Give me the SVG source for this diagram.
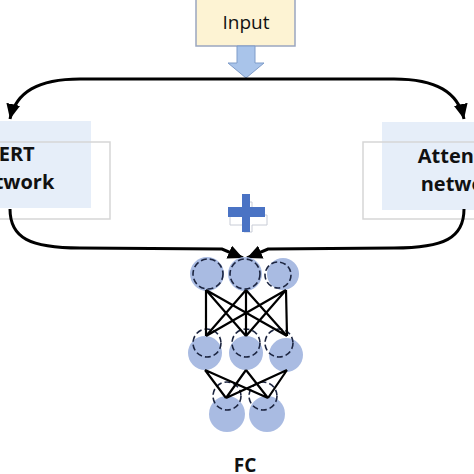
<svg xmlns="http://www.w3.org/2000/svg" width="474" height="474" viewBox="0 0 474 474">
<style>
.lbl{font-family:"Open Sans","Liberation Sans",sans-serif;font-weight:bold;font-size:20px;fill:#111}
.net{fill:none;stroke:#d6d6d6;stroke-width:1.5}
.pane{fill:#e6eef9}
.fil{fill:#a9bbe2}
.dash{fill:none;stroke:#1c2540;stroke-width:1.6;stroke-dasharray:6 3}
.wire{stroke:#000;stroke-width:2.2;fill:none}
.conn{stroke:#000;stroke-width:3;fill:none}
</style>
<defs>
<marker id="ah" markerUnits="userSpaceOnUse" markerWidth="16" markerHeight="14" refX="15" refY="7" orient="auto-start-reverse">
<path d="M0,0 L15,7 L0,14 z" fill="#000"/>
</marker>
</defs>
<rect width="474" height="474" fill="#fff"/>
<g id="input">
<rect x="196" y="-2" width="99" height="48" fill="#fdf3d3" stroke="#9aa6c0" stroke-width="1.5"/>
<text x="246" y="29" text-anchor="middle" font-family="Open Sans, Liberation Sans, sans-serif" font-size="19" fill="#111">Input</text>
<path d="M237,46 H255 V63 H264 L246,78 L228,63 H237 Z" fill="#a9c4ea" stroke="#7f9cc9" stroke-width="1"/>
</g>
<g id="bert">
<rect class="pane" x="-2" y="121" width="93" height="87"/>
<rect class="net" x="-2" y="142" width="112" height="77"/>
<text class="lbl" x="10" y="161" text-anchor="middle">BERT</text>
<text class="lbl" x="12" y="189" text-anchor="middle">network</text>
</g>
<g id="attention">
<rect class="pane" x="382" y="122" width="94" height="88"/>
<rect class="net" x="363" y="142" width="113" height="77"/>
<text class="lbl" x="466" y="163" text-anchor="middle">Attention</text>
<text class="lbl" x="463" y="191" text-anchor="middle">network</text>
</g>
<g id="plus">
<path d="M244,202 H252 V215 H267 V225 H252 V232 H244 V225 H230 V215 H244 Z" fill="#fff" stroke="#c8ccd6" stroke-width="1"/>
<path d="M242,194 H250 V207 H265 V217 H250 V232 H242 V217 H228 V207 H242 Z" fill="#4a73c4"/>
</g>
<g id="connectors">
<path class="conn" d="M10,119 C 16,92 38,79 80,79 L 394,79 C 436,79 458,92 464,119" marker-start="url(#ah)" marker-end="url(#ah)"/>
<path class="conn" d="M10,209 C 10,238 30,248 80,248 L 222,249 L 243,258" marker-end="url(#ah)"/>
<path class="conn" d="M464,209 C 464,238 444,248 394,248 L 268,249 L 247,258" marker-end="url(#ah)"/>
</g>
<g id="fc">
<circle class="fil" cx="207" cy="274" r="17"/>
<circle class="fil" cx="245" cy="274" r="17"/>
<circle class="fil" cx="283" cy="274" r="16"/>
<circle class="dash" cx="208" cy="274" r="15"/>
<circle class="dash" cx="245" cy="274" r="15"/>
<circle class="dash" cx="278" cy="275" r="13"/>
<circle class="fil" cx="205" cy="353" r="17"/>
<circle class="fil" cx="246" cy="353" r="17"/>
<circle class="fil" cx="286" cy="355" r="17"/>
<circle class="dash" cx="207" cy="343" r="14"/>
<circle class="dash" cx="246" cy="343" r="14"/>
<circle class="dash" cx="279" cy="343" r="14"/>
<circle class="fil" cx="227" cy="414" r="18"/>
<circle class="fil" cx="267" cy="414" r="18"/>
<circle class="dash" cx="227" cy="396" r="14"/>
<circle class="dash" cx="263" cy="396" r="14"/>
<g class="wire">
<path d="M206,290 L206,336 M206,290 L246,336 M206,290 L287,336 M246,290 L206,336 M246,290 L246,336 M246,290 L287,336 M286,290 L206,336 M286,290 L246,336 M286,290 L287,336"/>
<path d="M205,370 L226,398 M205,370 L268,398 M246,370 L226,398 M246,370 L268,398 M287,370 L226,398 M287,370 L268,398"/>
</g>
<text x="245" y="472" text-anchor="middle" font-family="Open Sans, Liberation Sans, sans-serif" font-weight="bold" font-size="19" fill="#111">FC</text>
</g>
</svg>
